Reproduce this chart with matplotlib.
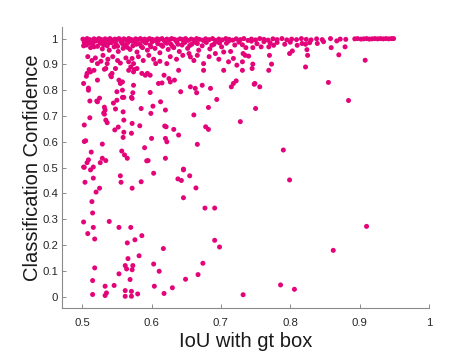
import matplotlib
matplotlib.use("Agg")
import matplotlib.pyplot as plt
import numpy as np

plt.rcParams["font.family"] = ["Liberation Sans", "DejaVu Sans"]

# top row, confidence ~1.0
band_x = [0.501, 0.504, 0.507, 0.511, 0.514, 0.517, 0.520, 0.524, 0.527, 0.530,
          0.533, 0.537, 0.540, 0.543, 0.547, 0.550, 0.553, 0.557, 0.560, 0.563,
          0.567, 0.570, 0.573, 0.577, 0.580, 0.584, 0.587, 0.590, 0.594, 0.597,
          0.601, 0.604, 0.608, 0.611, 0.615, 0.618, 0.622, 0.626, 0.629, 0.633,
          0.637, 0.641, 0.645, 0.649, 0.653, 0.657, 0.661, 0.665, 0.669, 0.674,
          0.678, 0.683, 0.688, 0.692, 0.697, 0.702, 0.707, 0.712, 0.717, 0.722,
          0.728, 0.733, 0.739, 0.744, 0.750, 0.756, 0.762, 0.768, 0.775, 0.781,
          0.788, 0.795, 0.802, 0.809, 0.816, 0.823, 0.830, 0.838, 0.846, 0.858,
          0.872, 0.880, 0.893, 0.897, 0.902, 0.906, 0.910, 0.914, 0.918, 0.922,
          0.926, 0.930, 0.934, 0.938, 0.942, 0.946, 0.949]
band_y = [0.998, 0.994, 1.000, 0.996, 0.993, 0.999, 0.995, 1.000, 0.997, 0.993,
          0.999, 0.995, 1.000, 0.994, 0.998, 0.996, 1.000, 0.993, 0.999, 0.995,
          1.000, 0.997, 0.994, 0.999, 0.996, 1.000, 0.993, 0.998, 0.995, 1.000,
          0.997, 0.994, 0.999, 0.996, 1.000, 0.993, 0.998, 0.995, 1.000, 0.997,
          0.994, 0.999, 0.996, 1.000, 0.993, 0.998, 0.995, 1.000, 0.997, 0.994,
          0.999, 0.996, 1.000, 0.993, 0.998, 0.995, 1.000, 0.997, 0.994, 0.999,
          0.996, 1.000, 0.993, 0.998, 0.995, 1.000, 0.997, 0.994, 0.999, 0.996,
          1.000, 0.995, 0.998, 0.996, 1.000, 0.997, 0.995, 0.999, 0.996, 1.000,
          0.998, 0.997, 0.999, 1.000, 0.998, 0.999, 1.000, 0.998, 0.999, 1.000,
          0.999, 1.000, 0.999, 1.000, 0.999, 1.000, 1.000]

# second layer just under the top row
upper_x = [0.503, 0.506, 0.509, 0.512, 0.515, 0.519, 0.522, 0.526, 0.529, 0.532,
           0.536, 0.539, 0.542, 0.546, 0.549, 0.552, 0.556, 0.559, 0.562, 0.566,
           0.569, 0.573, 0.576, 0.579, 0.583, 0.587, 0.590, 0.594, 0.598, 0.601,
           0.605, 0.609, 0.612, 0.616, 0.620, 0.624, 0.628, 0.632, 0.636, 0.640,
           0.644, 0.648, 0.652, 0.658, 0.663, 0.668, 0.673, 0.679, 0.684, 0.690,
           0.695, 0.701, 0.708, 0.714, 0.720, 0.726, 0.736, 0.752, 0.762, 0.781,
           0.792, 0.800, 0.828, 0.848,
           0.508, 0.514, 0.519, 0.527, 0.530, 0.537, 0.544, 0.551, 0.555, 0.563,
           0.581, 0.588, 0.596, 0.603, 0.612, 0.627, 0.636, 0.645, 0.661, 0.683,
           0.697, 0.711,
           0.502, 0.510, 0.517, 0.524, 0.531, 0.538, 0.545, 0.551, 0.558, 0.565,
           0.572, 0.578, 0.585, 0.592, 0.599, 0.607, 0.614, 0.622, 0.630, 0.638,
           0.646, 0.655, 0.666, 0.676, 0.687, 0.698, 0.711, 0.731, 0.744, 0.771]
upper_y = [0.985, 0.975, 0.988, 0.965, 0.980, 0.990, 0.970, 0.982, 0.960, 0.986,
           0.972, 0.955, 0.984, 0.968, 0.978, 0.950, 0.988, 0.962, 0.976, 0.985,
           0.958, 0.972, 0.987, 0.948, 0.980, 0.965, 0.986, 0.955, 0.975, 0.988,
           0.962, 0.980, 0.945, 0.970, 0.985, 0.958, 0.978, 0.965, 0.988, 0.950,
           0.975, 0.985, 0.962, 0.978, 0.986, 0.955, 0.972, 0.985, 0.960, 0.978,
           0.988, 0.968, 0.982, 0.950, 0.975, 0.986, 0.965, 0.980, 0.988, 0.985,
           0.978, 0.986, 0.984, 0.988,
           0.930, 0.915, 0.925, 0.912, 0.935, 0.920, 0.930, 0.915, 0.905, 0.925,
           0.930, 0.915, 0.935, 0.920, 0.912, 0.930, 0.920, 0.935, 0.915, 0.930,
           0.920, 0.910,
           0.972, 0.982, 0.968, 0.990, 0.975, 0.983, 0.991, 0.970, 0.980, 0.966,
           0.990, 0.978, 0.970, 0.983, 0.968, 0.991, 0.975, 0.982, 0.970, 0.978,
           0.990, 0.973, 0.981, 0.991, 0.974, 0.983, 0.990, 0.976, 0.990, 0.983]

# scattered detections
iou = [0.502, 0.506, 0.510, 0.512, 0.509, 0.509, 0.511, 0.503, 0.511, 0.503,
       0.505, 0.513, 0.509, 0.507, 0.502, 0.522, 0.522, 0.521, 0.522, 0.525,
       0.532, 0.533, 0.531, 0.532, 0.534, 0.536, 0.529, 0.529, 0.526, 0.534,
       0.516, 0.532, 0.534, 0.536, 0.541, 0.542, 0.545, 0.548, 0.547, 0.552,
       0.553, 0.555, 0.558, 0.550, 0.550, 0.558, 0.558, 0.560, 0.559, 0.560,
       0.560, 0.559, 0.557, 0.561, 0.565, 0.571, 0.572, 0.571, 0.572, 0.573,
       0.574, 0.567, 0.570, 0.567, 0.572, 0.574, 0.575, 0.579, 0.583, 0.585,
       0.590, 0.593, 0.595, 0.586, 0.594, 0.598, 0.598, 0.599, 0.600, 0.602,
       0.606, 0.610, 0.613, 0.615, 0.618, 0.620, 0.619, 0.621, 0.620, 0.622,
       0.620, 0.622, 0.625, 0.627, 0.632, 0.633, 0.639, 0.639, 0.642, 0.646,
       0.654, 0.656, 0.656, 0.661, 0.663, 0.665, 0.666, 0.666, 0.673, 0.675,
       0.675, 0.678, 0.682, 0.682, 0.685, 0.692, 0.694, 0.704, 0.704, 0.715,
       0.718, 0.722, 0.718, 0.723, 0.728, 0.731, 0.731, 0.735, 0.750, 0.749,
       0.756,
       0.503, 0.504, 0.512, 0.516, 0.514, 0.515, 0.502, 0.508, 0.516, 0.518,
       0.520, 0.525, 0.518, 0.515, 0.515, 0.533, 0.533, 0.535, 0.539, 0.546,
       0.553, 0.553, 0.555, 0.556, 0.562, 0.564, 0.562, 0.562, 0.565, 0.566,
       0.569, 0.570, 0.571, 0.571, 0.572, 0.572, 0.573, 0.576, 0.580, 0.582,
       0.585, 0.586, 0.603, 0.603, 0.604, 0.611, 0.617, 0.618, 0.630, 0.638,
       0.643, 0.646, 0.646, 0.649, 0.655, 0.664, 0.667, 0.674, 0.677, 0.691,
       0.691, 0.698, 0.732,
       0.799, 0.790, 0.910, 0.862, 0.786, 0.806, 0.884, 0.855, 0.908, 0.732,
       0.740, 0.746, 0.746, 0.745, 0.748, 0.758, 0.769, 0.770, 0.773, 0.769,
       0.776, 0.799, 0.803, 0.810, 0.817, 0.822, 0.824, 0.825, 0.822, 0.839,
       0.859, 0.867, 0.870, 0.879,
       0.507, 0.517, 0.543, 0.548, 0.574, 0.591]
confidence = [0.826, 0.854, 0.880, 0.871, 0.808, 0.800, 0.758, 0.665, 0.693, 0.601,
              0.604, 0.560, 0.530, 0.519, 0.502, 0.903, 0.839, 0.758, 0.755, 0.769,
              0.734, 0.723, 0.711, 0.707, 0.684, 0.674, 0.591, 0.536, 0.519, 0.527,
              0.502, 0.881, 0.884, 0.903, 0.858, 0.852, 0.750, 0.727, 0.646, 0.657,
              0.839, 0.826, 0.832, 0.794, 0.761, 0.800, 0.772, 0.772, 0.716, 0.684,
              0.637, 0.617, 0.564, 0.549, 0.536, 0.633, 0.671, 0.772, 0.768, 0.790,
              0.819, 0.877, 0.890, 0.910, 0.923, 0.903, 0.880, 0.884, 0.662, 0.729,
              0.577, 0.526, 0.527, 0.865, 0.865, 0.791, 0.858, 0.710, 0.613, 0.738,
              0.903, 0.826, 0.755, 0.828, 0.858, 0.723, 0.661, 0.658, 0.613, 0.600,
              0.536, 0.903, 0.845, 0.832, 0.648, 0.839, 0.877, 0.626, 0.794, 0.494,
              0.942, 0.929, 0.813, 0.704, 0.807, 0.790, 0.590, 0.935, 0.819, 0.903,
              0.877, 0.658, 0.648, 0.733, 0.807, 0.942, 0.764, 0.877, 0.948, 0.813,
              0.826, 0.836, 0.923, 0.897, 0.678, 0.910, 0.877, 0.935, 0.729, 0.826,
              0.813,
              0.501, 0.443, 0.491, 0.459, 0.368, 0.324, 0.289, 0.244, 0.268, 0.223,
              0.405, 0.420, 0.111, 0.062, 0.008, 0.040, 0.004, 0.014, 0.291, 0.043,
              0.268, 0.088, 0.468, 0.443, 0.120, 0.107, 0.023, 0.001, 0.208, 0.147,
              0.066, 0.268, 0.020, 0.001, 0.420, 0.104, 0.120, 0.220, 0.010, 0.158,
              0.445, 0.236, 0.478, 0.126, 0.040, 0.098, 0.186, 0.012, 0.034, 0.456,
              0.450, 0.491, 0.383, 0.067, 0.468, 0.421, 0.085, 0.129, 0.343, 0.343,
              0.218, 0.192, 0.007,
              0.452, 0.568, 0.272, 0.179, 0.045, 0.028, 0.760, 0.830, 0.916, 0.942,
              0.932, 0.965, 0.901, 0.884, 0.823, 0.968, 0.968, 0.935, 0.901, 0.877,
              0.974, 0.942, 0.952, 0.974, 0.981, 0.978, 0.957, 0.935, 0.890, 0.981,
              0.965, 0.991, 0.937, 0.968,
              0.865, 0.877, 0.865, 0.884, 0.871, 0.858]

xticks = [0.5, 0.6, 0.7, 0.8, 0.9, 1.0]
xtick_labels = ["0.5", "0.6", "0.7", "0.8", "0.9", "1"]
yticks = [0, 0.1, 0.2, 0.3, 0.4, 0.5, 0.6, 0.7, 0.8, 0.9, 1.0]
ytick_labels = ["0", "0.1", "0.2", "0.3", "0.4", "0.5", "0.6", "0.7", "0.8", "0.9", "1"]

x = np.concatenate([band_x, upper_x, iou])
y = np.concatenate([band_y, upper_y, confidence])

fig = plt.figure(figsize=(4.74, 3.55), dpi=100)
ax = fig.add_axes([0.131, 0.132, 0.774, 0.792])
ax.scatter(x, y, s=13, color="#e4047a", edgecolors="none", zorder=3)

ax.set_xlim(0.471, 1.0)
ax.set_ylim(-0.045, 1.045)
ax.set_xticks(xticks)
ax.set_xticklabels(xtick_labels)
ax.set_yticks(yticks)
ax.set_yticklabels(ytick_labels)

for side in ["top", "right"]:
    ax.spines[side].set_visible(False)
for side in ["left", "bottom"]:
    ax.spines[side].set_color("#8a8a8a")
    ax.spines[side].set_linewidth(0.8)
ax.tick_params(direction="in", length=3, width=0.7, color="#8a8a8a",
               labelsize=8.2, labelcolor="#262626")
ax.tick_params(axis="x", pad=7)
ax.tick_params(axis="y", pad=3)

ax.set_xlabel("IoU with gt box", fontsize=14.5, color="#1a1a1a", labelpad=3)
ax.set_ylabel("Classification Confidence", fontsize=14.5, color="#1a1a1a", labelpad=0)

fig.savefig("out.png", dpi=100)
